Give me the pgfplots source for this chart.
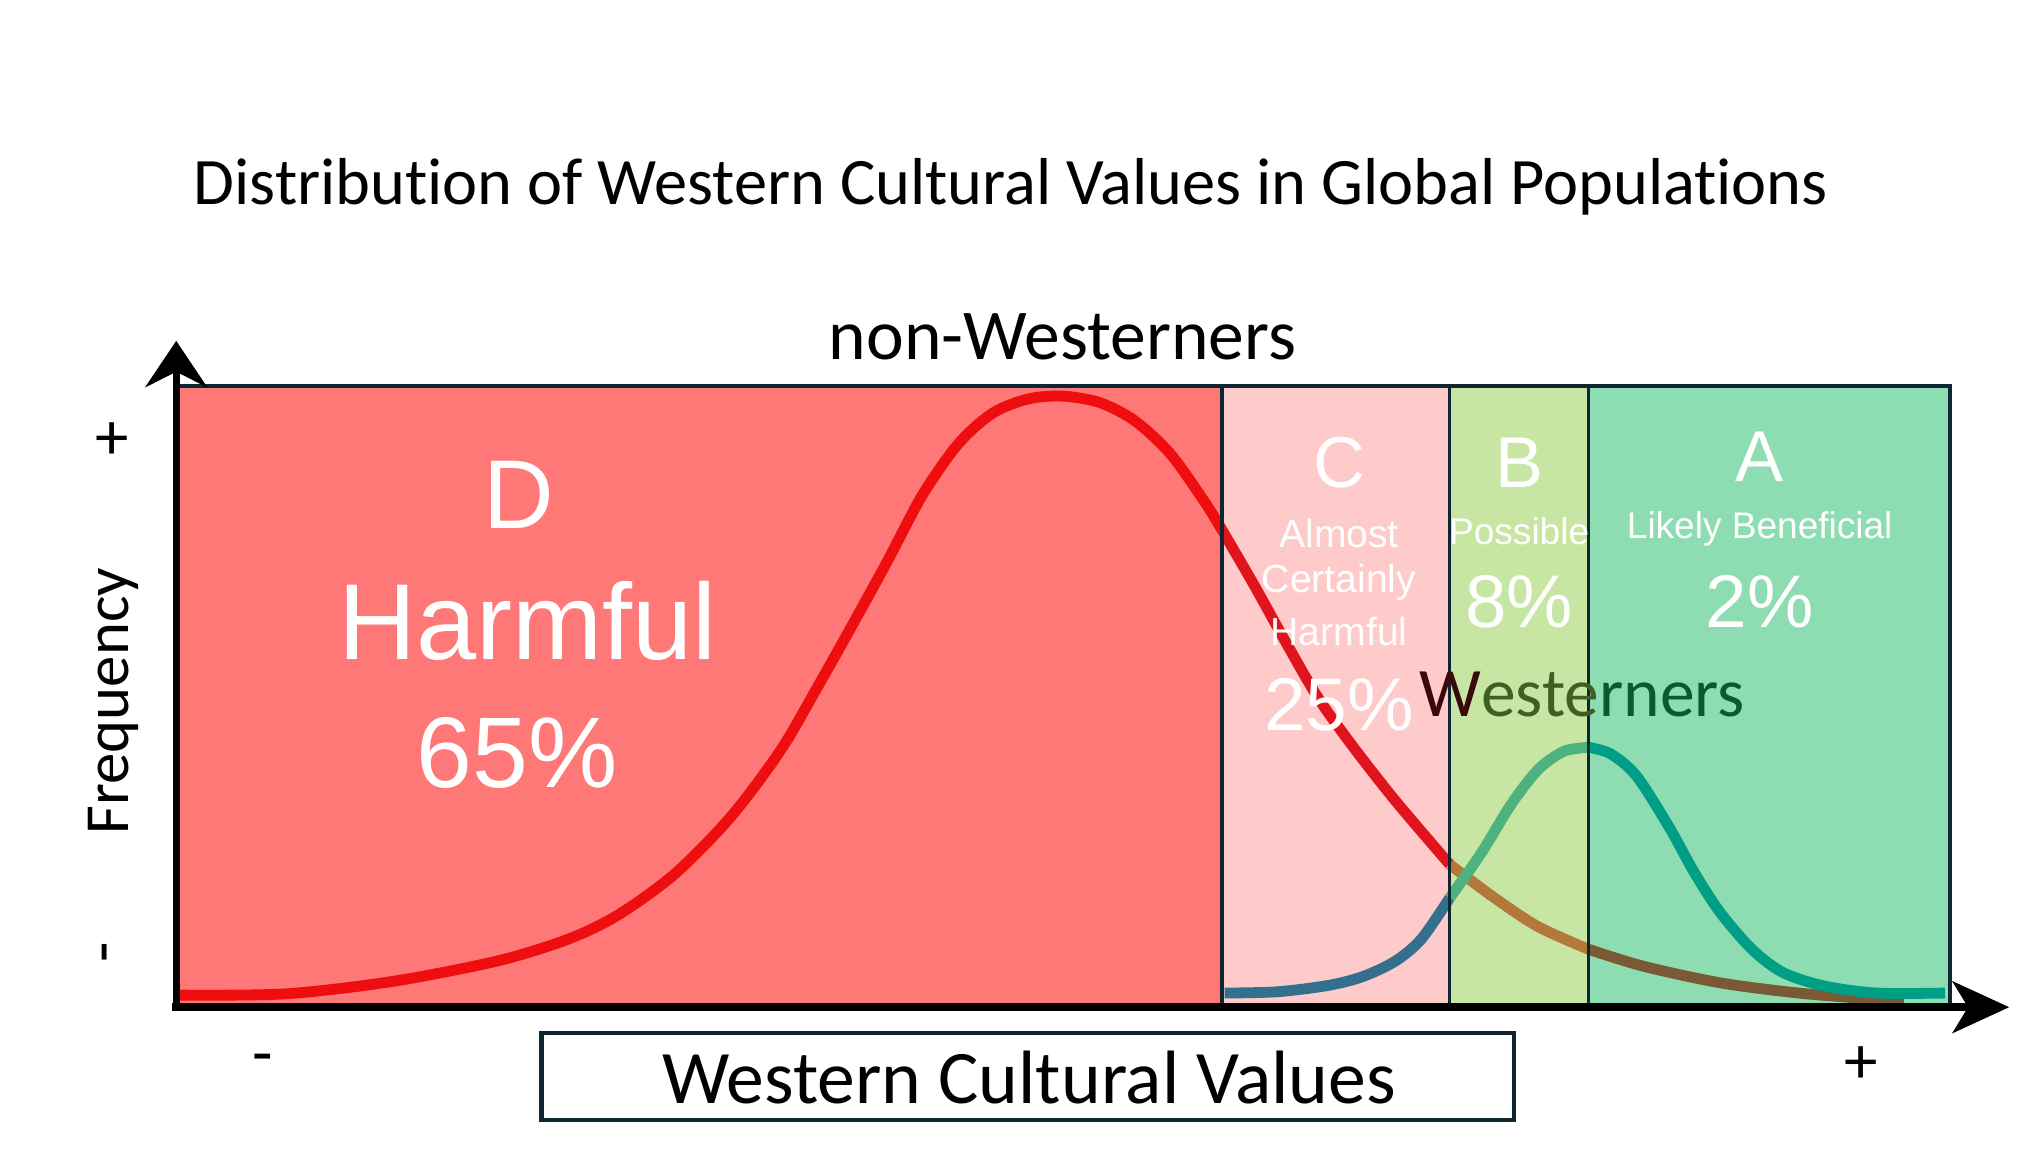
\documentclass[border=0pt]{standalone}
\usepackage{fontspec}
\usepackage{graphicx}
\usepackage{pgfplots}
\usepackage{pgfplotstable}
\pgfplotsset{compat=1.18}
\usetikzlibrary{arrows.meta}
\setmainfont{Carlito}[Ligatures=NoCommon]
\newfontfamily\arialf{Liberation Sans}

\definecolor{cD}{HTML}{FF7878}
\definecolor{cC}{HTML}{FFCACA}
\definecolor{cB}{HTML}{C7E6A3}
\definecolor{cA}{HTML}{8EDCB2}
\definecolor{frame}{HTML}{0E2532}
\definecolor{redD}{HTML}{EE0E10}
\definecolor{redC}{HTML}{E0141C}
\definecolor{redB}{HTML}{B4783A}
\definecolor{redA}{HTML}{7A5A35}
\definecolor{westC}{HTML}{33708E}
\definecolor{westB}{HTML}{4DB27E}
\definecolor{westA}{HTML}{009E85}

% x and y in picture units (y measured up from the x axis)
\pgfplotstableread{
x y
140 6.4
222 7.4
305 17
387 33
442 50
481 69
525 101
569 146
607 197
635 245
662 293
690 344
717 395
745 435
772 459
800 470
827 472
855 467
882 453
910 427
937 389
950 368
975 325
1000 280
1025 237
1053 198
1086 156
1127 108
1159 84
1195 60
1235 42
1277 29
1337 16
1398 8
1459 3
1480 1
}\nonwest

\pgfplotstableread{
x y
952 8
993 9
1033 14
1060 21
1085 33
1105 50
1127 82
1151 116
1175 155
1196 182
1216 196
1235 199
1252 194
1272 177
1297 138
1317 102
1337 71
1362 42
1386 24
1418 13.5
1459 8
1512 8
}\west

\begin{document}
\begin{tikzpicture}
\begin{axis}[
  x=0.25pt, y=0.25pt,
  xmin=140, xmax=1516, ymin=0, ymax=480,
  hide axis, clip=false,
]
  % zones
  \addplot[fill=cD, draw=none] coordinates {(140,0) (950,0) (950,480) (140,480)} -- cycle;
  \addplot[fill=cC, draw=none] coordinates {(950,0) (1127,0) (1127,480) (950,480)} -- cycle;
  \addplot[fill=cB, draw=none] coordinates {(1127,0) (1235,0) (1235,480) (1127,480)} -- cycle;
  \addplot[fill=cA, draw=none] coordinates {(1235,0) (1516,0) (1516,480) (1235,480)} -- cycle;

  % curves, coloured zone by zone
  \addplot[redD, line width=2.1pt, smooth, restrict x to domain=140:950] table {\nonwest};
  \addplot[redC, line width=2.1pt, smooth, restrict x to domain=950:1127] table {\nonwest};
  \addplot[redB, line width=2.1pt, smooth, restrict x to domain=1127:1235] table {\nonwest};
  \addplot[redA, line width=2.1pt, smooth, restrict x to domain=1235:1516] table {\nonwest};
  \addplot[westC, line width=2.1pt, smooth, restrict x to domain=950:1127] table {\west};
  \addplot[westB, line width=2.1pt, smooth, restrict x to domain=1127:1235] table {\west};
  \addplot[westA, line width=2.1pt, smooth, restrict x to domain=1235:1516] table {\west};

  % zone borders and frame
  \addplot[frame, line width=0.6pt] coordinates {(950,0) (950,480)};
  \addplot[frame, line width=0.6pt] coordinates {(1127,0) (1127,480)};
  \addplot[frame, line width=0.6pt] coordinates {(1235,0) (1235,480)};
  \addplot[frame, line width=0.9pt] coordinates {(140,480) (1516,480) (1516,0)};

  % axes with arrows
  \addplot[black, line width=1.4pt, -{Stealth[length=9pt,width=12pt,inset=3pt]}] coordinates {(137,-3) (137,515)};
  \addplot[black, line width=1.6pt, -{Stealth[length=11pt,width=10pt,inset=3pt]}] coordinates {(134,-3) (1562,-3)};

  % titles
  \node[font=\fontsize{12.9}{15}\selectfont] at (axis cs:786,635) {Distribution of Western Cultural Values in Global Populations};
  \node[font=\fontsize{13.9}{16}\selectfont] at (axis cs:826,518) {non-Westerners};
  \node[rotate=90, font=\fontsize{12.2}{14}\selectfont] at (axis cs:88,235) {Frequency};
  \node[font=\fontsize{13}{15}\selectfont] at (axis cs:87,437) {+};
  \node[rotate=90, font=\fontsize{13}{15}\selectfont] at (axis cs:88,40) {-};
  \node[font=\fontsize{13}{15}\selectfont] at (axis cs:204,-48) {-};
  \node[font=\fontsize{13}{15}\selectfont] at (axis cs:1447,-48) {+};
  \draw[frame, line width=0.8pt] (axis cs:421,-23) rectangle (axis cs:1177,-91);
  \node[font=\fontsize{14.7}{17}\selectfont] at (axis cs:800,-58) {Western Cultural Values};

  % zone labels
  \begin{scope}[every node/.style={text=white, font=\arialf}]
    \node[font=\arialf\fontsize{19}{22}\selectfont] at (axis cs:403,395) {D};
    \node[font=\arialf\fontsize{21}{24}\selectfont] at (axis cs:410,297) {Harmful};
    \node[font=\arialf\fontsize{19.5}{22}\selectfont] at (axis cs:402,195) {65\%};

    \node[font=\arialf\fontsize{14}{17}\selectfont] at (axis cs:1041,420) {C};
    \node[font=\arialf\fontsize{7.6}{9}\selectfont] at (axis cs:1041,365) {Almost};
    \node[font=\arialf\fontsize{7.6}{9}\selectfont] at (axis cs:1041,327) {Certainly};
    \node[font=\arialf\fontsize{7.6}{9}\selectfont] at (axis cs:1041,289) {Harmful};
    \node[font=\arialf\fontsize{14.5}{17}\selectfont] at (axis cs:1041,232) {25\%};

    \node[font=\arialf\fontsize{14}{17}\selectfont] at (axis cs:1181,420) {B};
    \node[font=\arialf\fontsize{7.2}{9}\selectfont] at (axis cs:1181,367) {Possible};
    \node[font=\arialf\fontsize{14.5}{17}\selectfont] at (axis cs:1181,312) {8\%};

    \node[font=\arialf\fontsize{14}{17}\selectfont] at (axis cs:1368,425) {A};
    \node[font=\arialf\fontsize{7.2}{9}\selectfont] at (axis cs:1368,369) {Likely Beneficial};
    \node[font=\arialf\fontsize{14.5}{17}\selectfont] at (axis cs:1368,312) {2\%};
  \end{scope}

  \node[font=\fontsize{13.5}{16}\selectfont] at (axis cs:1230,240)
    {\textcolor[HTML]{3A0A0A}{W}\textcolor[HTML]{3F5F25}{este}\textcolor[HTML]{0A5A30}{rners}};

  \coordinate (bl) at (axis cs:0,-118);
  \coordinate (tr) at (axis cs:1568,780);
\end{axis}
\pgfresetboundingbox
\path (bl) rectangle (tr);
\end{tikzpicture}
\end{document}
